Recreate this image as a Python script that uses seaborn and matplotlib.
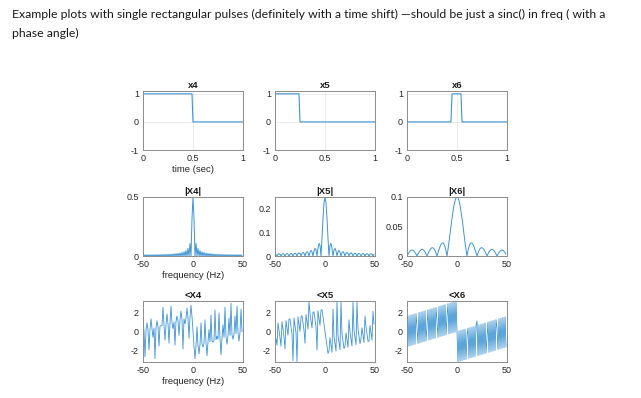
import numpy as np
import matplotlib
matplotlib.use("Agg")
import matplotlib.pyplot as plt
import seaborn as sns

# time signals (sampled pulse edges, Fs = 100 Hz)
t_x4 = [0, 0.49, 0.50, 1.0]
x4 = [1, 1, 0, 0]
t_x5 = [0, 0.24, 0.25, 1.0]
x5 = [1, 1, 0, 0]
t_x6 = [0, 0.44, 0.45, 0.54, 0.55, 1.0]
x6 = [0, 0, 1, 1, 0, 0]

# frequency bins -50 ... 49 Hz
freq = np.arange(-50, 50)

mag_x4 = [0, 0.010, 0, 0.010, 0, 0.010, 0, 0.010, 0, 0.010,
          0, 0.011, 0, 0.011, 0, 0.011, 0, 0.012, 0, 0.012,
          0, 0.013, 0, 0.013, 0, 0.014, 0, 0.015, 0, 0.016,
          0, 0.018, 0, 0.020, 0, 0.022, 0, 0.025, 0, 0.030,
          0, 0.036, 0, 0.046, 0, 0.064, 0, 0.106, 0, 0.318,
          0.5, 0.318, 0, 0.106, 0, 0.064, 0, 0.046, 0, 0.036,
          0, 0.030, 0, 0.025, 0, 0.022, 0, 0.020, 0, 0.018,
          0, 0.016, 0, 0.015, 0, 0.014, 0, 0.013, 0, 0.013,
          0, 0.012, 0, 0.012, 0, 0.011, 0, 0.011, 0, 0.011,
          0, 0.010, 0, 0.010, 0, 0.010, 0, 0.010, 0, 0.010]

mag_x5 = [0.010, 0.0071, 0, 0.0071, 0.0101, 0.0072, 0, 0.0072, 0.0103, 0.0074,
          0, 0.0075, 0.0108, 0.0077, 0, 0.0079, 0.0114, 0.0082, 0, 0.0085,
          0.0124, 0.0089, 0, 0.0094, 0.0137, 0.0100, 0, 0.0107, 0.0157, 0.0115,
          0, 0.0126, 0.0187, 0.0139, 0, 0.0156, 0.0235, 0.0178, 0, 0.0209,
          0.0324, 0.0253, 0, 0.0324, 0.0534, 0.0452, 0, 0.0751, 0.1593, 0.2251,
          0.25, 0.2251, 0.1593, 0.0751, 0, 0.0452, 0.0534, 0.0324, 0, 0.0253,
          0.0324, 0.0209, 0, 0.0178, 0.0235, 0.0156, 0, 0.0139, 0.0187, 0.0126,
          0, 0.0115, 0.0157, 0.0107, 0, 0.0100, 0.0137, 0.0094, 0, 0.0089,
          0.0124, 0.0085, 0, 0.0082, 0.0114, 0.0079, 0, 0.0077, 0.0108, 0.0075,
          0, 0.0074, 0.0103, 0.0072, 0, 0.0072, 0.0101, 0.0071, 0, 0.0071]

mag_x6 = [0, 0.0031, 0.0059, 0.0081, 0.0096, 0.0101, 0.0097, 0.0083, 0.0061, 0.0032,
          0, 0.0033, 0.0063, 0.0088, 0.0105, 0.0112, 0.0109, 0.0094, 0.0070, 0.0037,
          0, 0.0039, 0.0076, 0.0108, 0.0130, 0.0141, 0.0139, 0.0122, 0.0092, 0.0050,
          0, 0.0055, 0.0110, 0.0159, 0.0197, 0.0220, 0.0223, 0.0204, 0.0160, 0.0091,
          0, 0.0111, 0.0236, 0.0371, 0.0508, 0.0639, 0.0759, 0.0860, 0.0936, 0.0984,
          0.1, 0.0984, 0.0936, 0.0860, 0.0759, 0.0639, 0.0508, 0.0371, 0.0236, 0.0111,
          0, 0.0091, 0.0160, 0.0204, 0.0223, 0.0220, 0.0197, 0.0159, 0.0110, 0.0055,
          0, 0.0050, 0.0092, 0.0122, 0.0139, 0.0141, 0.0130, 0.0108, 0.0076, 0.0039,
          0, 0.0037, 0.0070, 0.0094, 0.0109, 0.0112, 0.0105, 0.0088, 0.0063, 0.0033,
          0, 0.0032, 0.0061, 0.0083, 0.0097, 0.0101, 0.0096, 0.0081, 0.0059, 0.0031]

ph_x4 = [1.40, 0.03, -2.60, 0.09, 0.90, 0.16, -1.90, 0.22, 1.30, 0.28,
         -0.60, 0.35, -2.80, 0.41, 1.10, 0.47, -1.50, 0.53, 0.60, 0.60,
         2.50, 0.66, -0.90, 0.72, 1.80, 0.79, -1.20, 0.85, 2.60, 0.91,
         0.30, 0.97, -1.40, 1.04, 1.60, 1.10, -0.40, 1.16, 2.10, 1.23,
         -1.80, 1.29, 0.80, 1.35, 2.40, 1.41, -0.70, 1.48, 2.70, 1.54,
         0.00, -1.54, -2.80, -1.48, 0.50, -1.41, -2.30, -1.35, 0.90, -1.29,
         -1.60, -1.23, 1.20, -1.16, -2.50, -1.10, 0.20, -1.04, 1.70, -0.97,
         -1.10, -0.91, 2.20, -0.85, -0.50, -0.79, 1.90, -0.72, -2.40, -0.66,
         0.70, -0.60, 2.50, -0.53, -1.30, -0.47, 1.40, -0.41, 2.90, -0.35,
         -0.80, -0.28, 1.60, -0.22, 2.60, -0.16, -1.00, -0.09, 2.30, -0.03]

ph_x5 = [-0.60, -0.75, -1.40, 0.88, 0.13, -0.63, -1.50, 1.01, 0.25, -0.50,
         -1.80, 1.13, 0.38, -0.38, 1.30, 1.26, 0.50, -0.25, -3.00, 1.38,
         0.63, -0.13, -3.10, 1.51, 0.75, 0.00, 1.50, 1.63, 0.88, 0.13,
         -1.20, 1.76, 1.01, 0.25, 3.10, 1.89, 1.13, 0.38, 2.00, 2.01,
         1.26, 0.50, -1.90, 2.14, 1.38, 0.63, 2.20, 2.26, 1.51, 0.75,
         0.00, -0.75, -1.51, -2.26, -2.00, -0.63, -1.38, -2.14, 2.30, -0.50,
         -1.26, -2.01, 3.10, -0.38, -1.13, -1.89, 3.10, -0.25, -1.01, -1.76,
         -1.50, -0.13, -0.88, -1.63, 1.20, 0.00, -0.75, -1.51, 3.00, 0.13,
         -0.63, -1.38, 3.00, 0.25, -0.50, -1.26, -0.70, 0.38, -0.38, -1.13,
         1.60, 0.50, -0.25, -1.01, -1.00, 0.63, -0.13, -0.88, 2.10, 0.75]

ph_x6 = [-0.30, 1.60, -1.51, 1.67, -1.45, 1.73, -1.38, 1.79, -1.32, 1.85,
         0.40, -1.23, 1.95, -1.16, 2.01, -1.10, 2.07, -1.04, 2.14, -0.97,
         0.60, 2.23, -0.88, 2.29, -0.82, 2.36, -0.75, 2.42, -0.69, 2.48,
         1.00, -0.60, 2.58, -0.53, 2.64, -0.47, 2.70, -0.41, 2.77, -0.35,
         1.50, 2.86, -0.25, 2.92, -0.19, 2.99, -0.13, 3.05, -0.06, 3.11,
         0.00, -3.11, 0.06, -3.05, 0.13, -2.99, 0.19, -2.92, 0.25, -2.86,
         -0.40, 0.35, -2.77, 0.41, -2.70, 0.47, -2.64, 0.53, -2.58, 0.60,
         1.10, -2.48, 0.69, -2.42, 0.75, -2.36, 0.82, -2.29, 0.88, -2.23,
         -0.60, 0.97, -2.14, 1.04, -2.07, 1.10, -2.01, 1.16, -1.95, 1.23,
         0.30, -1.85, 1.32, -1.79, 1.38, -1.73, 1.45, -1.67, 1.51, -1.60]

sns.set_theme(style="white")
plt.rcParams['font.family'] = ['Liberation Sans', 'DejaVu Sans']

W, H = 641, 398
line_c = '#3d94d4'
fig = plt.figure(figsize=(W / 100, H / 100), dpi=100)

title_text = ("Example plots with single rectangular pulses (definitely with a time shift) \u2014should be just a sinc() in freq ( with a",
              "phase angle)")
fig.text(12 / W, 1 - 14 / H, title_text[0], fontsize=8.8, family='Lato', va='center', ha='left', color='#1a1a1a')
fig.text(12 / W, 1 - 33 / H, title_text[1], fontsize=8.8, family='Lato', va='center', ha='left', color='#1a1a1a')

col_left = [143, 275, 407]
row_top = [91, 197, 301]
row_bot = [150, 256, 362]


def make_ax(r, c):
    left = col_left[c]
    ax = fig.add_axes([left / W, 1 - row_bot[r] / H, 100 / W, (row_bot[r] - row_top[r]) / H])
    for s in ax.spines.values():
        s.set_color('#8c8c8c')
        s.set_linewidth(0.7)
    ax.tick_params(direction='in', length=2, width=0.5, labelsize=6.5, colors='#262626', pad=3)
    return ax


def style(ax, title, xlim, ylim, xticks, yticks, xlab=None, grid=False):
    ax.set_xlim(*xlim)
    ax.set_ylim(*ylim)
    ax.set_xticks(xticks)
    ax.set_yticks(yticks)
    ax.set_xticklabels([f"{v:g}" for v in xticks])
    ax.set_yticklabels([f"{v:g}" for v in yticks])
    ax.set_title(title, fontsize=6.8, fontweight='bold', pad=2, color='#1a1a1a')
    ax.set_xlabel(xlab if xlab else '', fontsize=6.8, labelpad=1, color='#262626')
    ax.set_ylabel('')
    if grid:
        ax.grid(True, color='#e3e3e3', linewidth=0.5)
    else:
        ax.grid(False)


time_sig = [(t_x4, x4, 'x4'), (t_x5, x5, 'x5'), (t_x6, x6, 'x6')]
for c, (t, x, name) in enumerate(time_sig):
    ax = make_ax(0, c)
    sns.lineplot(x=t, y=x, ax=ax, color=line_c, linewidth=0.8, estimator=None, sort=False)
    style(ax, name, (0, 1), (-1, 1.1), [0, 0.5, 1], [-1, 0, 1],
          xlab='time (sec)' if c == 0 else None, grid=True)

mags = [(mag_x4, '|X4|', (0, 0.5), [0, 0.5]),
        (mag_x5, '|X5|', (0, 0.25), [0, 0.1, 0.2]),
        (mag_x6, '|X6|', (0, 0.1), [0, 0.05, 0.1])]
for c, (m, name, yl, yt) in enumerate(mags):
    ax = make_ax(1, c)
    sns.lineplot(x=freq, y=m, ax=ax, color=line_c, linewidth=0.7, estimator=None, sort=False)
    style(ax, name, (-50, 50), yl, [-50, 0, 50], yt,
          xlab='frequency (Hz)' if c == 0 else None)

phases = [(ph_x4, '<X4'), (ph_x5, '<X5'), (ph_x6, '<X6')]
for c, (p, name) in enumerate(phases):
    ax = make_ax(2, c)
    sns.lineplot(x=freq, y=p, ax=ax, color=line_c, linewidth=0.6, estimator=None, sort=False)
    style(ax, name, (-50, 50), (-np.pi, np.pi), [-50, 0, 50], [-2, 0, 2],
          xlab='frequency (Hz)' if c == 0 else None)

fig.savefig('out.png', dpi=100)
